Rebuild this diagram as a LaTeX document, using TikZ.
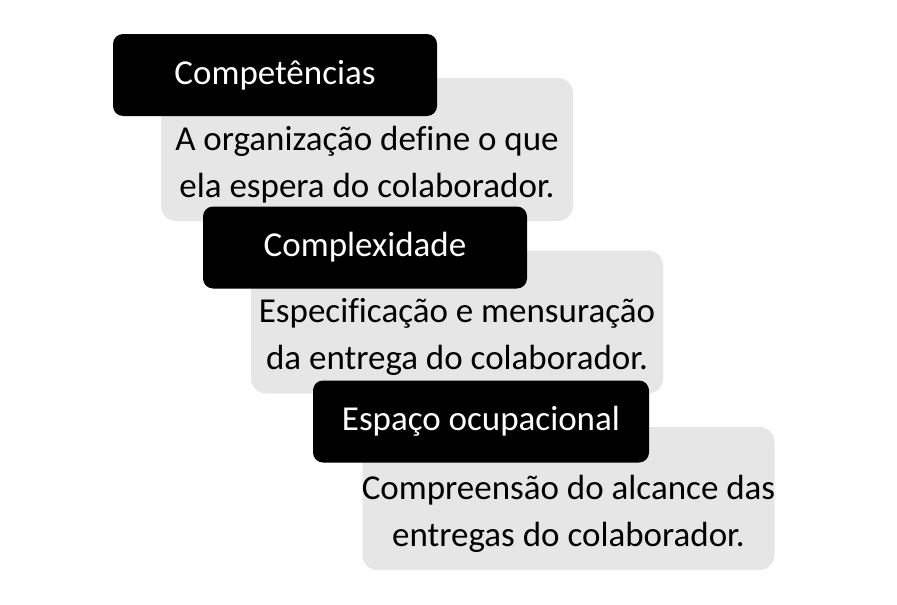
\documentclass[tikz,border=0pt]{standalone}
\usepackage{fontspec}
\setmainfont{Carlito}[Ligatures=NoCommon]
\definecolor{cinza}{HTML}{E7E6E6}
\begin{document}
\begin{tikzpicture}[x=1pt, y=-1pt]
      \tikzstyle{caixa}=[fill=cinza, rounded corners=15pt, minimum width=412pt, minimum height=143pt, inner sep=0pt]
      \tikzstyle{titulo}=[fill=black, text=white, rounded corners=10pt, minimum height=82pt, inner sep=0pt, font=\fontsize{35}{42}\selectfont]
      \tikzstyle{texto}=[align=center, inner sep=0pt, font=\fontsize{35}{47}\selectfont]
      \useasboundingbox (0, 0) rectangle (897, 605);

      \path (367, 149.5) node[caixa] (c1) {};
      \path (457, 322) node[caixa] (c2) {};
      \path (568.5, 498.5) node[caixa] (c3) {};

      \path (c1.center) ++(0, 15) node[texto] (t1) {A organização define o que\\ela espera do colaborador.};
      \path (c2.center) ++(0, 15) node[texto] (t2) {Especificação e mensuração\\da entrega do colaborador.};
      \path (c3.center) ++(0, 15) node[texto] (t3) {Compreensão do alcance das\\entregas do colaborador.};

      \path (275, 75) node[titulo, minimum width=324pt] (s1) {Competências};
      \path (365, 247.5) node[titulo, minimum width=324pt] (s2) {Complexidade};
      \path (481, 421.5) node[titulo, minimum width=336pt] (s3) {Espaço ocupacional};
    \end{tikzpicture}
\end{document}
